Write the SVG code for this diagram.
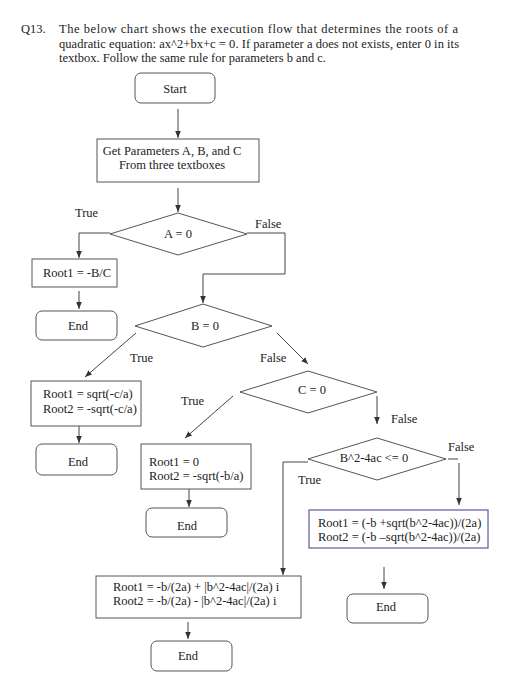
<svg xmlns="http://www.w3.org/2000/svg" width="514" height="685" viewBox="0 0 514 685">
<style>
text{font-family:"Liberation Serif","Times New Roman",serif;font-size:12.5px;fill:#222}
.hd{font-size:12.5px}
.box{fill:#fff;stroke:#555;stroke-width:1}
.pbox{fill:#fff;stroke:#5a5aa0;stroke-width:1.2}
.c{text-anchor:middle}
.ln{fill:none;stroke:#444;stroke-width:1}
</style>
<defs>
<marker id="ah" viewBox="0 0 10 10" refX="10" refY="5" markerWidth="7" markerHeight="7" markerUnits="userSpaceOnUse" orient="auto">
<path d="M0,1 L10,5 L0,9 Z" fill="#333"/>
</marker>
</defs>
<rect width="514" height="685" fill="#fff"/>
<g id="header">
<text class="hd" x="21" y="33">Q13.</text>
<text class="hd" x="59" y="33" textLength="399" lengthAdjust="spacing">The below chart shows the execution flow that determines the roots of a</text>
<text class="hd" x="59" y="47.5" textLength="400" lengthAdjust="spacing">quadratic equation:  ax^2+bx+c = 0.  If parameter a does not exists, enter 0 in its</text>
<text class="hd" x="59" y="62">textbox. Follow the same rule for parameters b and c.</text>
</g>
<g id="connectors">
<line class="ln" x1="178" y1="109" x2="178" y2="138" marker-end="url(#ah)"/>
<line class="ln" x1="178" y1="188" x2="178" y2="212" marker-end="url(#ah)"/>
<polyline class="ln" points="110,233 79,233 79,258" marker-end="url(#ah)"/>
<line class="ln" x1="79" y1="291" x2="79" y2="309" marker-end="url(#ah)"/>
<polyline class="ln" points="247,233 285,233 285,274 203,274 203,303" marker-end="url(#ah)"/>
<line class="ln" x1="136" y1="333" x2="85" y2="377" marker-end="url(#ah)"/>
<line class="ln" x1="79" y1="426" x2="79" y2="443" marker-end="url(#ah)"/>
<line class="ln" x1="277" y1="333" x2="308" y2="364" marker-end="url(#ah)"/>
<line class="ln" x1="233" y1="396" x2="185" y2="438" marker-end="url(#ah)"/>
<line class="ln" x1="189" y1="489" x2="189" y2="507" marker-end="url(#ah)"/>
<line class="ln" x1="377" y1="396" x2="377" y2="424" marker-end="url(#ah)"/>
<line class="ln" x1="448" y1="459" x2="458" y2="459"/>
<line class="ln" x1="459" y1="463" x2="459" y2="505" marker-end="url(#ah)"/>
<polyline class="ln" points="308,462 283,462 283,575" marker-end="url(#ah)"/>
<line class="ln" x1="384" y1="567" x2="384" y2="589" marker-end="url(#ah)"/>
<line class="ln" x1="188" y1="622" x2="188" y2="639" marker-end="url(#ah)"/>
<text x="75" y="217">True</text>
<text x="255" y="228">False</text>
<text x="130" y="362">True</text>
<text x="260" y="362">False</text>
<text x="181" y="405">True</text>
<text x="391" y="423">False</text>
<text x="448" y="451">False</text>
<text x="298" y="484">True</text>
</g>
<g id="start">
<rect class="box" x="135" y="73" width="80" height="30" rx="6"/>
<text class="c" x="175" y="93">Start</text>
</g>
<g id="getparams">
<rect class="box" x="97" y="139" width="162" height="43"/>
<text class="c" x="172" y="155">Get Parameters A, B, and C</text>
<text class="c" x="172" y="169">From three textboxes</text>
</g>
<g id="decA">
<polygon class="box" points="178,213 247,234 178,255 110,234"/>
<text class="c" x="178" y="238">A = 0</text>
</g>
<g id="root_bc">
<rect class="box" x="32" y="259" width="85" height="28"/>
<text x="43" y="277">Root1 = -B/C</text>
</g>
<g id="end1">
<rect class="box" x="36" y="311" width="81" height="29" rx="6"/>
<text class="c" x="78" y="330">End</text>
</g>
<g id="decB">
<polygon class="box" points="203,304 272,326 203,347 135,326"/>
<text class="c" x="205" y="330">B = 0</text>
</g>
<g id="root_sqrt">
<rect class="box" x="31" y="381" width="110" height="45"/>
<text x="43" y="398">Root1 = sqrt(-c/a)</text>
<text x="43" y="413">Root2 = -sqrt(-c/a)</text>
</g>
<g id="end2">
<rect class="box" x="36" y="444" width="81" height="31" rx="6"/>
<text class="c" x="78" y="466">End</text>
</g>
<g id="decC">
<polygon class="box" points="308,371 377,392 308,413 240,392"/>
<text class="c" x="312" y="394">C = 0</text>
</g>
<g id="root_zero">
<rect class="box" x="141" y="444" width="110" height="45"/>
<text x="149" y="466">Root1 = 0</text>
<text x="149" y="480">Root2 = -sqrt(-b/a)</text>
</g>
<g id="end3">
<rect class="box" x="146" y="508" width="81" height="29" rx="6"/>
<text class="c" x="187" y="530">End</text>
</g>
<g id="decD">
<polygon class="box" points="377,438 446,459 377,480 308,459"/>
<text class="c" x="374" y="462">B^2-4ac &lt;= 0</text>
</g>
<g id="root_real">
<rect class="pbox" x="309" y="510" width="179" height="38"/>
<text x="318" y="527">Root1 = (-b +sqrt(b^2-4ac))/(2a)</text>
<text x="318" y="541">Root2 = (-b –sqrt(b^2-4ac))/(2a)</text>
</g>
<g id="end4">
<rect class="box" x="347" y="594" width="81" height="29" rx="6"/>
<text class="c" x="386" y="611">End</text>
</g>
<g id="root_complex">
<rect class="box" x="96" y="576" width="205" height="42"/>
<text x="113" y="591">Root1 = -b/(2a) + |b^2-4ac|/(2a) i</text>
<text x="113" y="605">Root2 = -b/(2a) - |b^2-4ac|/(2a) i</text>
</g>
<g id="end5">
<rect class="box" x="151" y="641" width="81" height="30" rx="6"/>
<text class="c" x="188" y="660">End</text>
</g>
</svg>
